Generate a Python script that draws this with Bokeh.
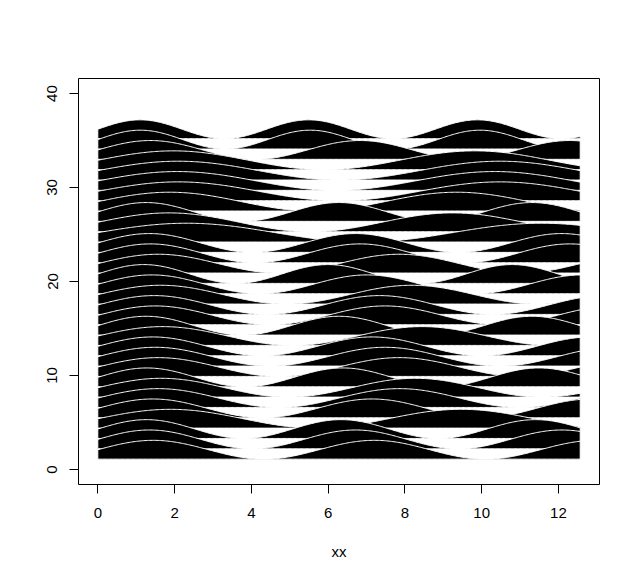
import numpy as np
from bokeh.plotting import figure
from bokeh.models import FixedTicker
from bokeh.embed import file_html
from bokeh.resources import INLINE

# layer index (bottom = 1), baseline height and wave frequency
layer_id = list(range(1, 33))
layer_base = [1.1 * k for k in layer_id]
layer_freq = [1.09, 1.17, 1.24, 0.83, 1.10, 1.00, 0.95, 1.23, 1.00, 1.05,
              1.10, 0.93, 1.25, 1.05, 1.07, 0.96, 1.12, 1.31, 1.00, 1.15,
              1.17, 0.68, 0.85, 1.25, 0.84, 0.75, 0.76, 0.75, 0.80, 1.15,
              1.42, 1.43]
x_ticks = [0, 2, 4, 6, 8, 10, 12]
y_ticks = [0, 10, 20, 30, 40]

xx = np.linspace(0, 4 * np.pi, 400)

p = figure(width=633, height=575, output_backend="svg", toolbar_location=None,
           x_range=(-0.5027, 13.069), y_range=(-1.6, 41.6),
           min_border_left=78, min_border_top=78, min_border_right=34, min_border_bottom=91)
p.xgrid.visible = False
p.ygrid.visible = False
p.outline_line_color = "black"
p.outline_line_width = 1

xs, ys = [], []
for b, w in zip(layer_base[::-1], layer_freq[::-1]):
    top = b + 1 + np.sin(w * xx)
    xs.append(np.concatenate([xx, xx[::-1]]))
    ys.append(np.concatenate([top, np.full_like(xx, b)]))
p.patches(xs, ys, fill_color="black", line_color="white", line_width=1)

for ax in (p.xaxis, p.yaxis):
    ax.axis_line_color = None
    ax.major_tick_line_color = "black"
    ax.major_tick_in = 0
    ax.major_tick_out = 9
    ax.minor_tick_line_color = None
    ax.major_label_text_font = "Liberation Sans"
    ax.major_label_text_font_size = "15px"
    ax.major_label_text_color = "black"
p.xaxis.ticker = FixedTicker(ticks=x_ticks)
p.yaxis.ticker = FixedTicker(ticks=y_ticks)
p.xaxis.major_label_standoff = 14
p.yaxis.major_label_standoff = 12
p.yaxis.major_label_orientation = "vertical"
p.xaxis.axis_label = "xx"
p.xaxis.axis_label_text_font = "Liberation Sans"
p.xaxis.axis_label_text_font_size = "15px"
p.xaxis.axis_label_text_font_style = "normal"
p.xaxis.axis_label_text_color = "black"
p.xaxis.axis_label_standoff = 22

open("out.html", "w").write(file_html(p, INLINE))
